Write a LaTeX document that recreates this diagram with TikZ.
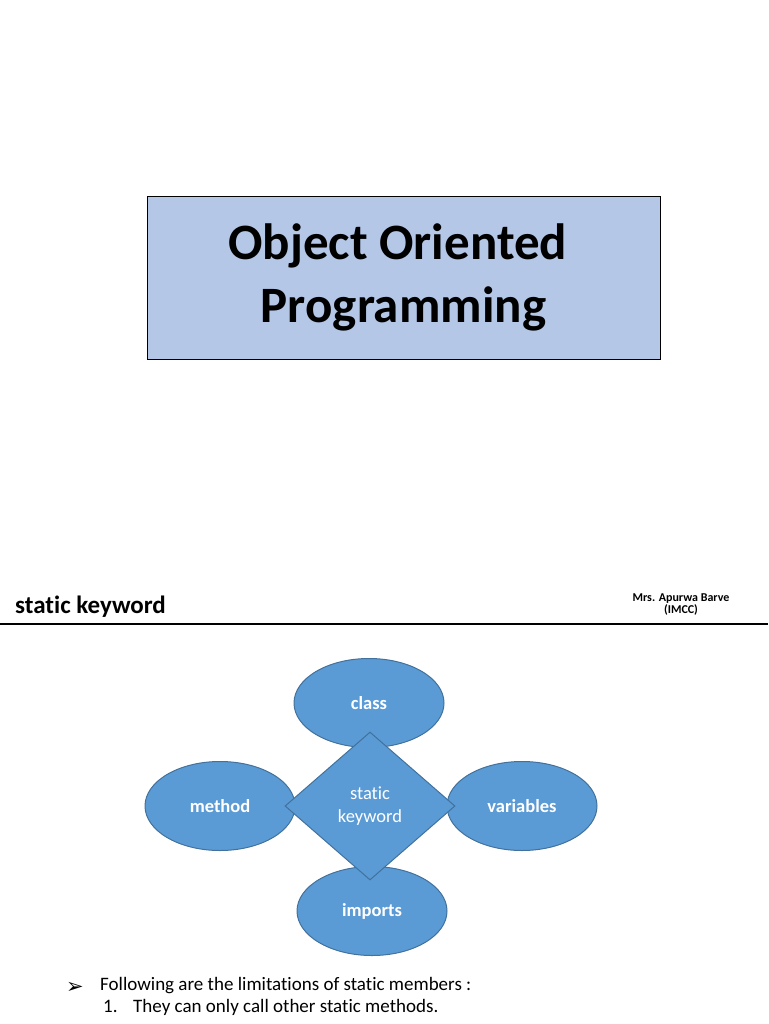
\documentclass[tikz,border=0pt]{standalone}
\usepackage{fontspec}
\setmainfont{Carlito}[Ligatures=NoCommon]
\newfontfamily\symfont{DejaVu Sans}
\usetikzlibrary{shapes.geometric}
\usetikzlibrary{positioning}

\definecolor{titleblue}{HTML}{B4C7E7}
\definecolor{ovalfill}{HTML}{5B9BD5}
\definecolor{ovaldraw}{HTML}{41719C}

\tikzset{
  oval/.style={ellipse, draw=ovaldraw, fill=ovalfill, line width=1pt,
    minimum width=150pt, minimum height=89pt, inner sep=0pt,
    text=white, font=\fontsize{18.5}{22}\selectfont\bfseries},
  keybox/.style={diamond, draw=ovaldraw, fill=ovalfill, line width=1pt,
    minimum width=170pt, minimum height=148pt, inner sep=0pt,
    text=white, align=center, font=\fontsize{18.5}{23}\selectfont},
  bodytext/.style={anchor=base west, inner sep=0pt, font=\fontsize{19}{23}\selectfont}
}

\begin{document}
\begin{tikzpicture}[x=1pt, y=-1pt]
	\useasboundingbox (0,0) rectangle (768,1024);
	
	%Title slide
	\node[draw,
	      fill=titleblue,
	      minimum width = 513pt,
	      minimum height = 163pt,
	      align=center,
	      font=\fontsize{51}{63}\selectfont\bfseries] (title) at (403.5,277.5){Object Oriented\hspace*{11.5pt}\\Programming};
	
	%Header
	\node[anchor=base west, inner sep=0pt, font=\fontsize{25}{28}\selectfont\bfseries] (head) at (15,613){static keyword};
	\node[anchor=base, inner sep=0pt, font=\fontsize{12}{12}\selectfont\bfseries] (author) at (681,601){Mrs. Apurwa Barve};
	\node[anchor=base, inner sep=0pt, font=\fontsize{12}{12}\selectfont\bfseries] (org) at (681,613){(IMCC)};
	\coordinate (rulel) at (0,624);
	\coordinate (ruler) at (768,624);
	\draw[line width=2pt] (rulel) -- (ruler);
	
	%Ovals
	\node[oval] (class) at (369,703){class};
	\node[oval] (method) at (220,806){method};
	\node[oval] (variables) at (522,806){variables};
	\node[oval] (imports) at (372,911){imports};
	
	%Centre diamond
	\node[keybox] (keyword) at (370,806){static\\keyword};
	
	%Bottom text
	\node[anchor=center, inner sep=0pt, font=\symfont\bfseries\fontsize{21}{24}\selectfont] (bullet) at (75,988){➢};
	\node[bodytext] (line1) at (100,990.5){Following are the limitations of static members :};
	\node[bodytext] (num1) at (103,1012.5){1.};
	\node[bodytext] (line2) at (133,1012.5){They can only call other static methods.};
\end{tikzpicture}
\end{document}
